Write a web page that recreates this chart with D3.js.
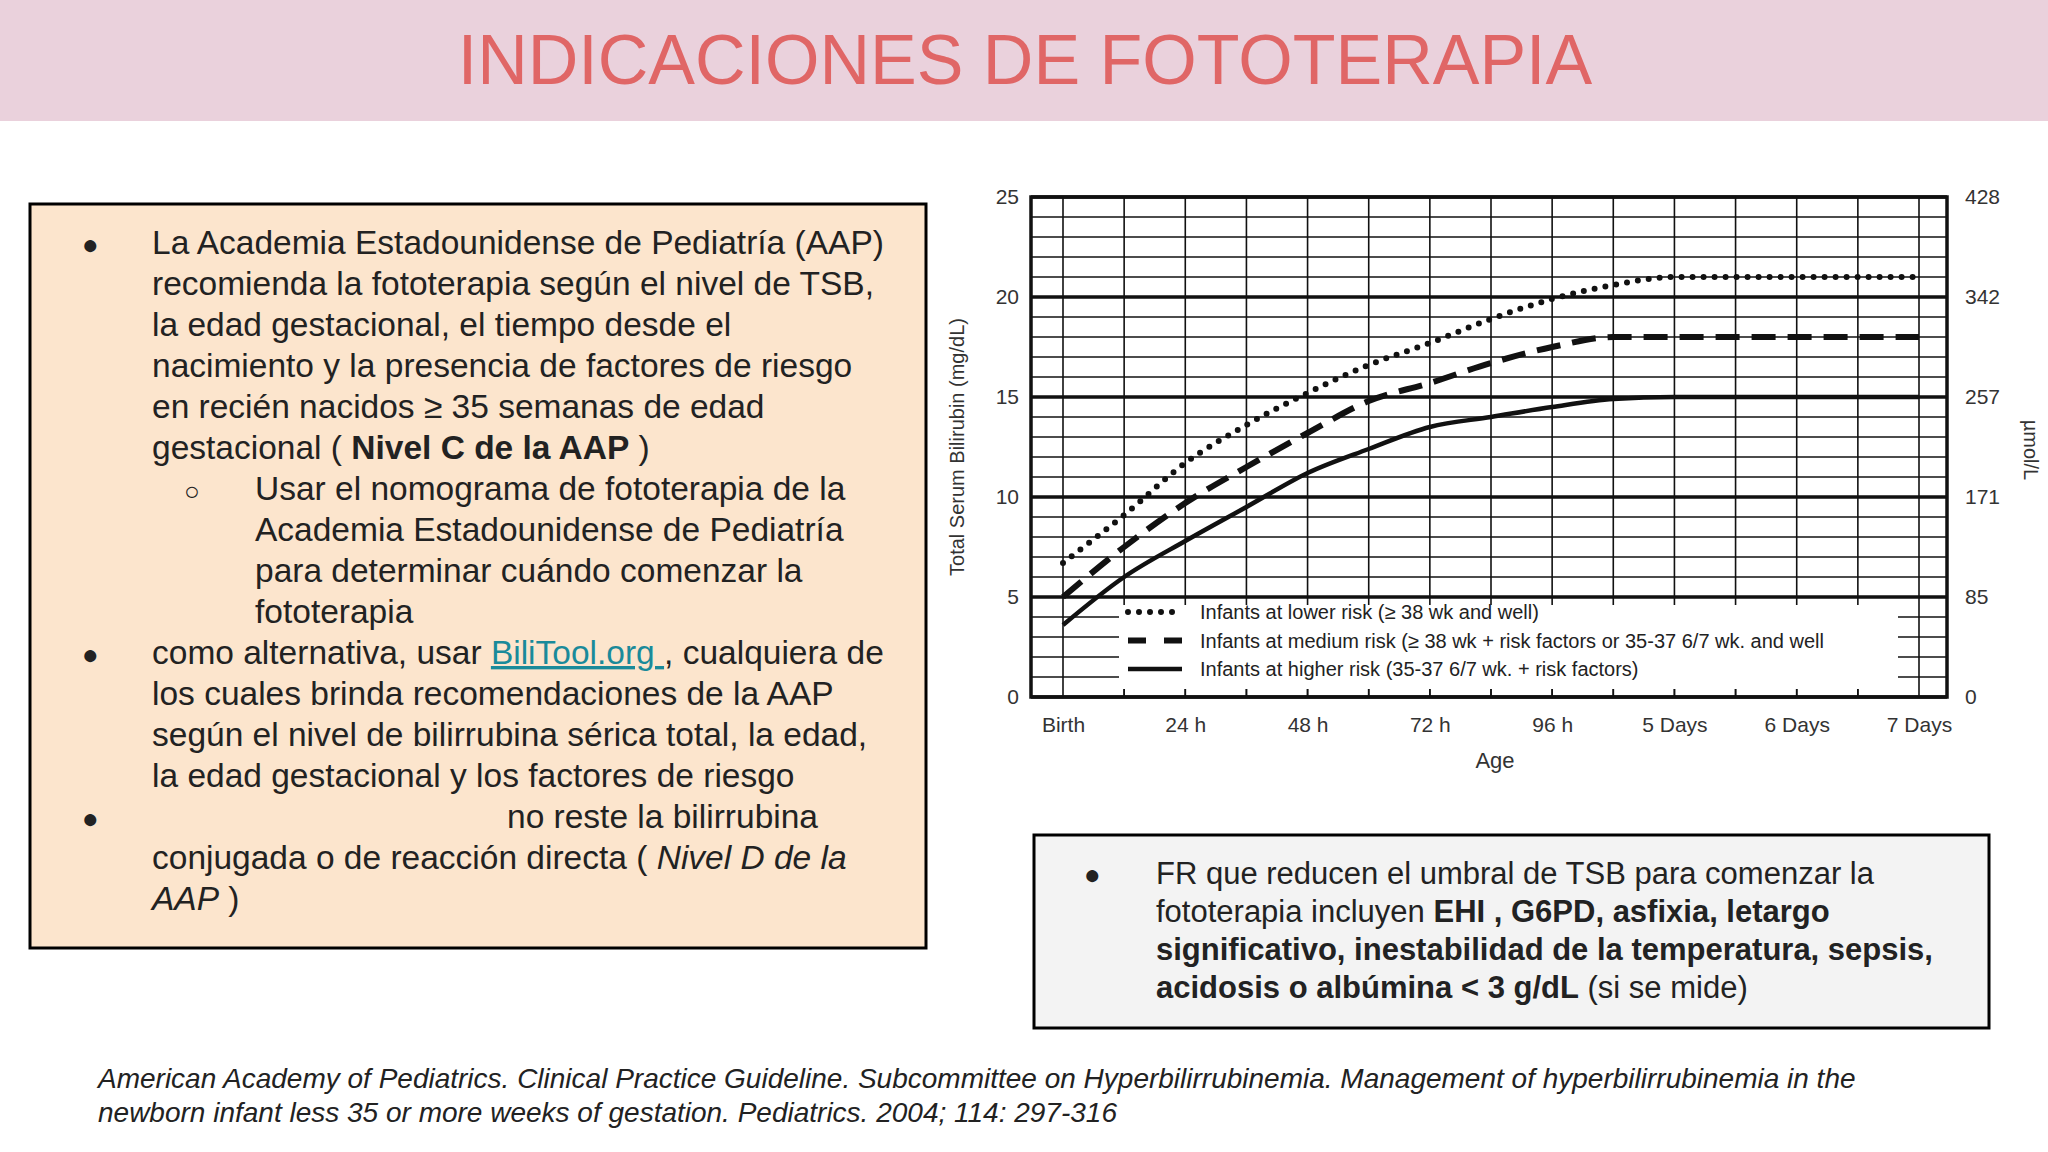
<!DOCTYPE html>
<html><head><meta charset="utf-8">
<script src="https://cdn.jsdelivr.net/npm/d3@7"></script>
<style>
body{margin:0;background:#fff;font-family:Arial,"Liberation Sans",sans-serif}
</style></head>
<body><svg id="c" width="2048" height="1152"></svg>
<script>
// ---- données du nomogramme ----
let hours = [0,12,24,36,48,60,72,84,96,108,120,132,144,156,168];
let lowerRisk  = [6.7,9.1,11.7,13.6,15.2,16.6,17.7,18.9,19.9,20.6,21,21,21,21,21];
let mediumRisk = [5.0,7.5,9.7,11.5,13.2,14.8,15.7,16.7,17.5,18.0,18,18,18,18,18];
let higherRisk = [3.6,6.0,7.8,9.5,11.2,12.4,13.5,14.0,14.5,14.9,15,15,15,15,15];
let xTickHours = [0,24,48,72,96,120,144,168];
let xTickLabels = ["Birth","24 h","48 h","72 h","96 h","5 Days","6 Days","7 Days"];
let yTicks = [0,5,10,15,20,25];
let yTicksRight = ["0","85","171","257","342","428"];
let legendLabels = ["Infants at lower risk (\u2265 38 wk and well)",
  "Infants at medium risk (\u2265 38 wk + risk factors or 35-37 6/7 wk. and well",
  "Infants at higher risk (35-37 6/7 wk. + risk factors)"];

let svg = d3.select("#c");

// bandeau titre
svg.append("rect").attr("width",2048).attr("height",121).attr("fill","#ead1dc");
svg.append("text").attr("x",1025).attr("y",84).attr("text-anchor","middle")
  .attr("font-size",70).attr("fill","#e06666").text("INDICACIONES DE FOTOTERAPIA");

// ---- graphique ----
let x = d3.scaleLinear().domain([0,168]).range([1063,1919]);
let y = d3.scaleLinear().domain([0,25]).range([697,197]);
let L = 1031, R = 1947;
let g = svg.append("g");

// grille horizontale
for (let v=0; v<=25; v++){
  g.append("line").attr("x1",L).attr("x2",R).attr("y1",y(v)).attr("y2",y(v))
    .attr("stroke","#111").attr("stroke-width", v%5===0 ? 3.5 : 1.6);
}
// grille verticale
for (let h=0; h<=168; h+=12){
  g.append("line").attr("x1",x(h)).attr("x2",x(h)).attr("y1",y(25)).attr("y2",y(0))
    .attr("stroke","#111").attr("stroke-width",1.6);
}
// zone légende
g.append("rect").attr("x",1119).attr("y",y(4.6)).attr("width",779).attr("height",y(0.4)-y(4.6)).attr("fill","#fff");
for (let h=12; h<=156; h+=12){
  g.append("line").attr("x1",x(h)).attr("x2",x(h)).attr("y1",y(0.4)).attr("y2",y(0))
    .attr("stroke","#111").attr("stroke-width",1.6);
}
g.append("rect").attr("x",L).attr("y",y(25)).attr("width",R-L).attr("height",y(0)-y(25))
  .attr("fill","none").attr("stroke","#111").attr("stroke-width",3.5);

let line = d3.line().x((d,i)=>x(hours[i])).y(d=>y(d)).curve(d3.curveMonotoneX);
let styles = [
  {data:lowerRisk, dash:"0 11", w:6, cap:"round"},
  {data:mediumRisk, dash:"24 12", w:6, cap:"butt"},
  {data:higherRisk, dash:null, w:4.5, cap:"butt"}
];
styles.forEach(s=>{
  g.append("path").attr("d",line(s.data)).attr("fill","none").attr("stroke","#111")
    .attr("stroke-width",s.w).attr("stroke-dasharray",s.dash).attr("stroke-linecap",s.cap);
});

// légende
styles.forEach((s,i)=>{
  let ly = 612 + i*28.5;
  g.append("line").attr("x1",1128).attr("x2",1182).attr("y1",ly).attr("y2",ly)
    .attr("stroke","#111").attr("stroke-width",s.w).attr("stroke-dasharray",s.dash ? (i===0?"0 11":"18 18") : null)
    .attr("stroke-linecap",s.cap);
  g.append("text").attr("x",1200).attr("y",ly+7).attr("font-size",20).attr("fill","#222").text(legendLabels[i]);
});

// axes
let axL = g.append("g").attr("transform",`translate(${L},0)`)
  .call(d3.axisLeft(y).tickValues(yTicks).tickSize(0).tickPadding(12));
let axR = g.append("g").attr("transform",`translate(${R},0)`)
  .call(d3.axisRight(y).tickValues(yTicks).tickSize(0).tickPadding(18).tickFormat((d,i)=>yTicksRight[i]));
let axB = g.append("g").attr("transform",`translate(0,${y(0)})`)
  .call(d3.axisBottom(x).tickValues(xTickHours).tickSize(0).tickPadding(20).tickFormat((d,i)=>xTickLabels[i]));
[axL,axR,axB].forEach(a=>{a.select(".domain").remove();
  a.selectAll("text").attr("font-size",21).attr("fill","#333").attr("font-family","Arial,sans-serif");});

g.append("text").attr("transform","translate(964,447) rotate(-90)").attr("text-anchor","middle")
  .attr("font-size",20).attr("fill","#333").text("Total Serum Bilirubin (mg/dL)");
g.append("text").attr("transform","translate(2024,450) rotate(90)").attr("text-anchor","middle")
  .attr("font-size",20).attr("fill","#333").text("\u00b5mol/L");
g.append("text").attr("x",1495).attr("y",768).attr("text-anchor","middle")
  .attr("font-size",22).attr("fill","#333").text("Age");

// ---- encadré gauche ----
svg.append("rect").attr("x",30).attr("y",204).attr("width",896).attr("height",744)
  .attr("fill","#fce5cd").attr("stroke","#000").attr("stroke-width",3);
let leftLines = [
  {b:"\u25CF", bx:82, tx:152, t:"La Academia Estadounidense de Pediatría (AAP)"},
  {tx:152, t:"recomienda la fototerapia según el nivel de TSB,"},
  {tx:152, t:"la edad gestacional, el tiempo desde el"},
  {tx:152, t:"nacimiento y la presencia de factores de riesgo"},
  {tx:152, t:"en recién nacidos \u2265 35 semanas de edad"},
  {tx:152, html:[["gestacional ( ",""],["Nivel C de la AAP","bold"],[" )",""]]},
  {b:"\u25CB", bx:184, tx:255, t:"Usar el nomograma de fototerapia de la"},
  {tx:255, t:"Academia Estadounidense de Pediatría"},
  {tx:255, t:"para determinar cuándo comenzar la"},
  {tx:255, t:"fototerapia"},
  {b:"\u25CF", bx:82, tx:152, html:[["como alternativa, usar ",""],["BiliTool.org ","link"],[", cualquiera de",""]]},
  {tx:152, t:"los cuales brinda recomendaciones de la AAP"},
  {tx:152, t:"según el nivel de bilirrubina sérica total, la edad,"},
  {tx:152, t:"la edad gestacional y los factores de riesgo"},
  {b:"\u25CF", bx:82, tx:507, t:"no reste la bilirrubina"},
  {tx:152, html:[["conjugada o de reacción directa ( ",""],["Nivel D de la","italic"]]},
  {tx:152, html:[["AAP","italic"],[" )",""]]}
];
leftLines.forEach((l,i)=>{
  let yy = 254 + i*41;
  if (l.b) svg.append("text").attr("x",l.bx).attr("y",yy).attr("font-size",l.b==="\u25CB"?26:28).attr("fill","#222").text(l.b);
  let t = svg.append("text").attr("x",l.tx).attr("y",yy).attr("font-size",33.5).attr("fill","#222");
  if (l.t) t.text(l.t);
  else l.html.forEach(p=>{
    let s = t.append("tspan").text(p[0]);
    if (p[1]==="bold") s.attr("font-weight","bold");
    if (p[1]==="italic") s.attr("font-style","italic");
    if (p[1]==="link") s.attr("fill","#1a8a9a").attr("text-decoration","underline");
  });
});

// ---- encadré droit ----
svg.append("rect").attr("x",1034).attr("y",835).attr("width",955).attr("height",193)
  .attr("fill","#f3f3f3").attr("stroke","#000").attr("stroke-width",3);
svg.append("text").attr("x",1084).attr("y",884).attr("font-size",28).attr("fill","#222").text("\u25CF");
let rightLines = [
  [["FR que reducen el umbral de TSB para comenzar la",""]],
  [["fototerapia incluyen ",""],["EHI , G6PD, asfixia, letargo","bold"]],
  [["significativo, inestabilidad de la temperatura, sepsis,","bold"]],
  [["acidosis o albúmina < 3 g/dL","bold"],[" (si se mide)",""]]
];
rightLines.forEach((parts,i)=>{
  let t = svg.append("text").attr("x",1156).attr("y",884+i*38).attr("font-size",31).attr("fill","#222");
  parts.forEach(p=>{ let s=t.append("tspan").text(p[0]); if(p[1]) s.attr("font-weight","bold"); });
});

// ---- référence ----
["American Academy of Pediatrics. Clinical Practice Guideline. Subcommittee on Hyperbilirrubinemia. Management of hyperbilirrubinemia in the",
 "newborn infant less 35 or more weeks of gestation. Pediatrics. 2004; 114: 297-316"].forEach((s,i)=>{
  svg.append("text").attr("x",98).attr("y",1088+i*34).attr("font-size",28).attr("font-style","italic")
    .attr("fill","#222").text(s);
});
</script></body></html>
